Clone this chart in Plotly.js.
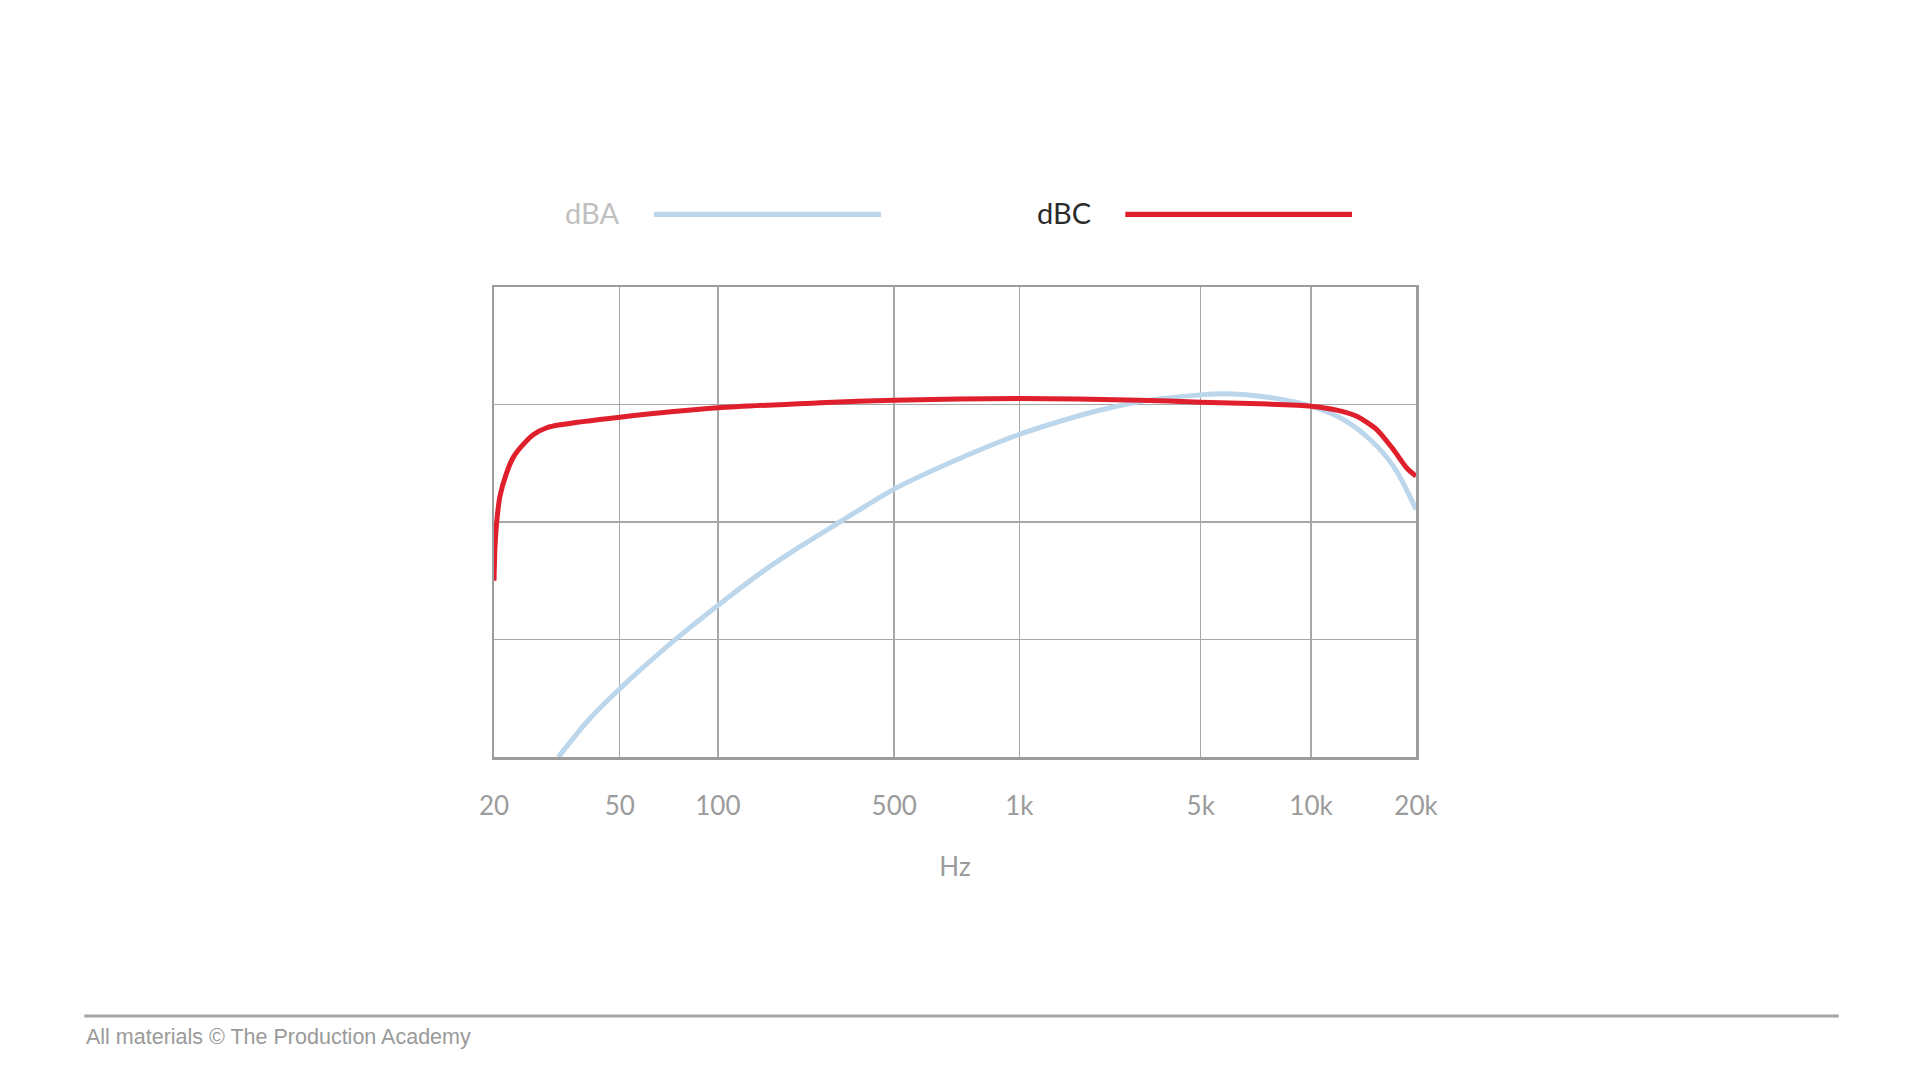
<!DOCTYPE html>
<html>
<head>
<meta charset="utf-8">
<script src="https://cdn.plot.ly/plotly-3.0.1.min.js"></script>
<style>
  html, body { margin: 0; padding: 0; background: #ffffff; }
  #chart { width: 1920px; height: 1080px; }
</style>
</head>
<body>
<div id="chart"></div>
<script>
// ---- Data ----
// Tick positions on the drawn (illustrative) log frequency scale, and their labels
const tickPositions = [20, 51.3, 107, 401, 1024, 3986, 9108, 20000];
const tickLabels = ['20', '50', '100', '500', '1k', '5k', '10k', '20k'];

// dBC curve
const dbcFreq = [20, 20.15, 20.41, 20.91, 22.0, 23.1, 24.9, 26.9, 29.7, 32.8, 51.3, 107, 230, 401, 1024, 2530, 3986, 6216, 9108, 11040, 12826, 14900, 16878, 18656, 20000];
const dbcLevel = [-15.0, -12.1, -10.0, -7.8, -5.8, -4.5, -3.4, -2.55, -1.98, -1.73, -1.08, -0.28, 0.14, 0.37, 0.51, 0.37, 0.2, 0.06, -0.14, -0.48, -1.0, -2.13, -3.83, -5.4, -6.1];

// dBA curve
const dbaFreq = [32.4, 41.1, 51.3, 62.8, 78.6, 107, 150, 198, 267, 401, 609, 1024, 1654, 2020, 2726, 3986, 4844, 6216, 9108, 11600, 14172, 16878, 20000];
const dbaLevel = [-30, -26.7, -24.2, -22.1, -19.9, -17.1, -14.2, -12.1, -10.0, -7.2, -4.96, -2.55, -0.85, -0.28, 0.37, 0.82, 0.91, 0.71, -0.14, -1.28, -2.98, -5.25, -8.94];

const levelGrid = [-30, -20, -10, 0, 10];

const seriesNames = ['dBA', 'dBC'];
const footerText = 'All materials \u00A9 The Production Academy';
const xTitle = 'Hz';

// ---- Styles ----
const blue = '#bcd6ec';
const red = '#e01f2d';
const gridCol = '#a8a8a8';
const tickCol = '#9b9b9b';
const labelFont = 'Lato, "Open Sans", sans-serif';

const traces = [
  {
    x: dbaFreq, y: dbaLevel, type: 'scatter', mode: 'lines', name: seriesNames[0],
    line: { color: blue, width: 5, shape: 'spline', smoothing: 1.0 },
    hoverinfo: 'skip', cliponaxis: true
  },
  {
    x: dbcFreq, y: dbcLevel, type: 'scatter', mode: 'lines', name: seriesNames[1],
    line: { color: red, width: 5, shape: 'spline', smoothing: 0.7 },
    hoverinfo: 'skip', cliponaxis: true
  }
];

const layout = {
  width: 1920, height: 1080,
  paper_bgcolor: '#ffffff', plot_bgcolor: '#ffffff',
  margin: { l: 494, r: 504, t: 287, b: 323 },
  showlegend: false,
  font: { family: labelFont, color: tickCol },
  xaxis: {
    type: 'log',
    range: [Math.log10(20), Math.log10(20000)],
    tickvals: tickPositions, ticktext: tickLabels,
    tickfont: { size: 26, color: tickCol, family: labelFont },
    ticks: 'outside', ticklen: 24, tickcolor: 'rgba(0,0,0,0)',
    showgrid: true, gridcolor: gridCol, gridwidth: 1.5,
    showline: true, mirror: true, linecolor: '#9c9c9c', linewidth: 2.5,
    zeroline: false, fixedrange: true,
    title: { text: xTitle, font: { size: 26, color: tickCol, family: labelFont }, standoff: 38 }
  },
  yaxis: {
    range: [-30, 10],
    tickvals: levelGrid,
    showticklabels: false, ticks: '',
    showgrid: true, gridcolor: gridCol, gridwidth: 1.5,
    showline: true, mirror: true, linecolor: '#9c9c9c', linewidth: 2.5,
    zeroline: false, fixedrange: true
  },
  shapes: [
    // legend samples
    { type: 'line', xref: 'paper', yref: 'paper', x0: 0.1735, x1: 0.4197, y0: 1.1545, y1: 1.1545, line: { color: blue, width: 5.3 } },
    { type: 'line', xref: 'paper', yref: 'paper', x0: 0.6847, x1: 0.9306, y0: 1.1545, y1: 1.1545, line: { color: red, width: 5.3 } },
    // footer rule
    { type: 'line', xref: 'paper', yref: 'paper', x0: -0.4444, x1: 1.4585, y0: -0.5511, y1: -0.5511, line: { color: '#a4a4a4', width: 2.8 } }
  ],
  annotations: [
    { text: seriesNames[0], xref: 'paper', yref: 'paper', x: 0.1378, y: 1.1595, xanchor: 'right', yanchor: 'middle', showarrow: false,
      font: { size: 29, color: '#c0c0c0', family: labelFont } },
    { text: seriesNames[1], xref: 'paper', yref: 'paper', x: 0.6500, y: 1.1595, xanchor: 'right', yanchor: 'middle', showarrow: false,
      font: { size: 29, color: '#2b2b2b', family: labelFont } },
    { text: footerText, xref: 'paper', yref: 'paper', x: -0.4444, y: -0.5955, xanchor: 'left', yanchor: 'middle', showarrow: false,
      font: { size: 21.5, color: '#9a9a9a', family: '"Liberation Sans", Arial, sans-serif' } }
  ]
};

Plotly.newPlot('chart', traces, layout, { displayModeBar: false, staticPlot: true });
</script>
</body>
</html>
